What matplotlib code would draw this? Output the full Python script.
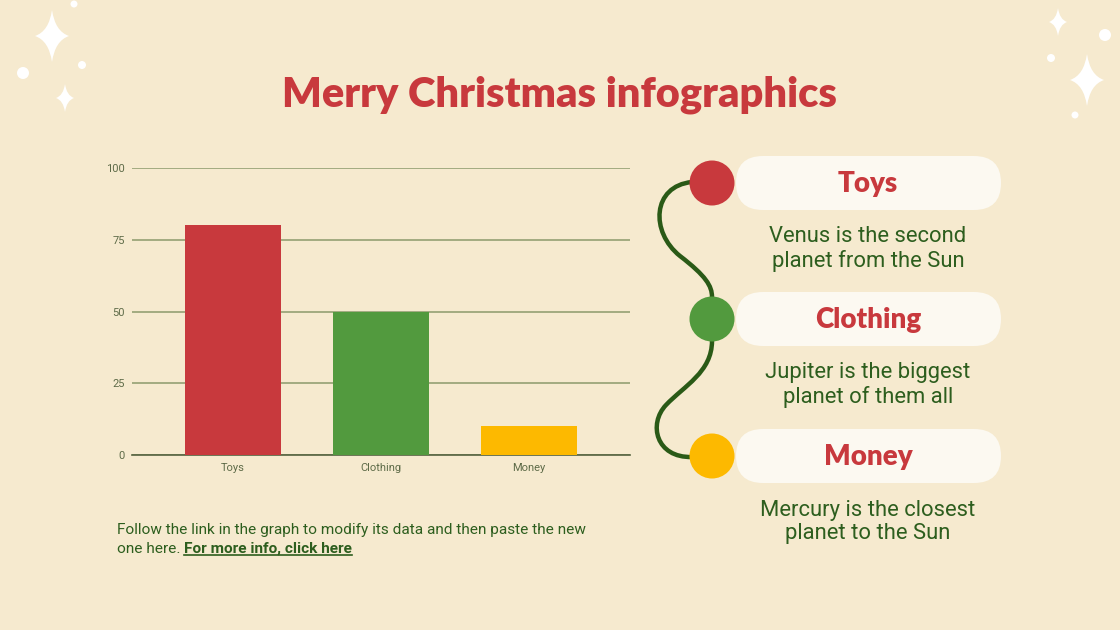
import matplotlib
matplotlib.use("Agg")
import matplotlib.pyplot as plt
from matplotlib.patches import FancyBboxPatch, Circle, PathPatch
from matplotlib.path import Path

# ---------------- data ----------------
categories = ["Toys", "Clothing", "Money"]
values = [80, 50, 10]
yticks = [0, 25, 50, 75, 100]
descriptions = ["Venus is the second\nplanet from the Sun",
                "Jupiter is the biggest\nplanet of them all",
                "Mercury is the closest\nplanet to the Sun"]
title = "Merry Christmas infographics"
footer_line1 = "Follow the link in the graph to modify its data and then paste the new"
footer_line2a = "one here. "
footer_line2b = "For more info, click here"

# ---------------- style ----------------
BG = "#f6eacf"
RED = "#c8393d"
GREEN = "#529a3e"
YELLOW = "#fdb900"
DKGREEN = "#2d5e1e"
PILL = "#fcf9f1"
colors = [RED, GREEN, YELLOW]

W, H = 1120, 630
fig = plt.figure(figsize=(W / 100, H / 100), dpi=100, facecolor=BG)

# overlay axes in pixel coords
ov = fig.add_axes([0, 0, 1, 1], zorder=0)
ov.set_xlim(0, W)
ov.set_ylim(H, 0)
ov.axis("off")
ov.set_facecolor(BG)


def sparkle(ax, cx, cy, rx, ry):
    k = 0.18
    verts = [(cx, cy - ry),
             (cx + rx * k, cy - ry * k), (cx + rx, cy),
             (cx + rx * k, cy + ry * k), (cx, cy + ry),
             (cx - rx * k, cy + ry * k), (cx - rx, cy),
             (cx - rx * k, cy - ry * k), (cx, cy - ry),
             (cx, cy - ry)]
    codes = [Path.MOVETO,
             Path.CURVE3, Path.CURVE3,
             Path.CURVE3, Path.CURVE3,
             Path.CURVE3, Path.CURVE3,
             Path.CURVE3, Path.CURVE3,
             Path.CLOSEPOLY]
    ax.add_patch(PathPatch(Path(verts, codes), fc="white", ec="none"))


# sparkles
sparkle(ov, 52, 36, 17, 26)
sparkle(ov, 65, 98, 9, 14)
sparkle(ov, 1058, 22, 9, 14)
sparkle(ov, 1087, 80, 17, 26)
for (x, y, r) in [(74, 4, 3.5), (82, 65, 4), (23, 73, 6), (1105, 35, 6),
                  (1051, 58, 4), (1075, 115, 3.5)]:
    ov.add_patch(Circle((x, y), r, fc="white", ec="none"))

# title
ov.text(560, 95, title, ha="center", va="center", color=RED,
        fontsize=30, fontweight="heavy", family="Lato")

# ---------------- bar chart ----------------
ax = fig.add_axes([132 / W, (H - 455) / H, 498 / W, 287 / H], zorder=2)
ax.set_facecolor("none")
x = list(range(len(categories)))
ax.bar(x, values, width=0.65, color=colors, zorder=3)
ax.set_xlim(-0.682, 2.682)
ax.set_ylim(0, 100)
ax.set_yticks(yticks)
ax.set_yticklabels([str(v) for v in yticks])
ax.set_xticks(x)
ax.set_xticklabels(categories)
for s in ["top", "right", "left"]:
    ax.spines[s].set_visible(False)
ax.spines["bottom"].set_color("#55623f")
ax.spines["bottom"].set_linewidth(1.2)
ax.grid(axis="y", color="#8b9a6b", linewidth=1.1, zorder=0)
ax.tick_params(axis="both", length=0, labelsize=8, colors="#5e6b48",
               labelfontfamily="Roboto")
ax.tick_params(axis="y", pad=5)
ax.tick_params(axis="x", pad=6)

# ---------------- right side ----------------
cy_list = [183, 319, 456]
cx = 712
# connecting curve
curve_verts = [(692, 182),
               (652, 186), (650, 232), (680, 256),
               (706, 276), (712, 286), (712, 297),
               (712, 341),
               (712, 372), (684, 386), (666, 405),
               (648, 424), (656, 458), (692, 457)]
codes = [Path.MOVETO,
         Path.CURVE4, Path.CURVE4, Path.CURVE4,
         Path.CURVE4, Path.CURVE4, Path.CURVE4,
         Path.MOVETO,
         Path.CURVE4, Path.CURVE4, Path.CURVE4,
         Path.CURVE4, Path.CURVE4, Path.CURVE4]
ov.add_patch(PathPatch(Path(curve_verts, codes), fc="none", ec="#2a5a17", lw=3.2,
                       capstyle="round"))

for i, cyy in enumerate(cy_list):
    ov.add_patch(FancyBboxPatch((736, cyy - 27), 265, 54,
                                boxstyle="round,pad=0,rounding_size=27",
                                mutation_aspect=1, fc=PILL, ec="none"))
    ov.add_patch(Circle((cx, cyy), 22.5, fc=colors[i], ec="none", zorder=3))
    ov.text(868, cyy + 1, categories[i], ha="center", va="center", color=RED,
            fontsize=20, fontweight="heavy", family="Lato")
    ov.text(868, cyy + 66, descriptions[i], ha="center", va="center",
            color=DKGREEN, fontsize=15.8, family="Roboto", linespacing=1.15)

# ---------------- footer ----------------
FS = 11.1
ov.text(117, 530, footer_line1, ha="left", va="center", color=DKGREEN,
        fontsize=FS, family="Roboto")
t2 = ov.text(117, 549, footer_line2a, ha="left", va="center", color=DKGREEN,
             fontsize=FS, family="Roboto")
fig.canvas.draw()
r = fig.canvas.get_renderer()
bb = t2.get_window_extent(renderer=r)
inv = ov.transData.inverted()
x_end = inv.transform((bb.x1, bb.y0))[0]
t3 = ov.text(x_end, 549, footer_line2b, ha="left", va="center", color=DKGREEN,
             fontsize=FS, family="Roboto", fontweight="bold")
fig.canvas.draw()
bb3 = t3.get_window_extent(renderer=r)
x0d, y0d = inv.transform((bb3.x0, bb3.y0))
x1d, _ = inv.transform((bb3.x1, bb3.y0))
ov.plot([x0d, x1d], [y0d - 1.5, y0d - 1.5], color=DKGREEN, lw=1.2)

fig.savefig("out.png", dpi=100, facecolor=BG)
